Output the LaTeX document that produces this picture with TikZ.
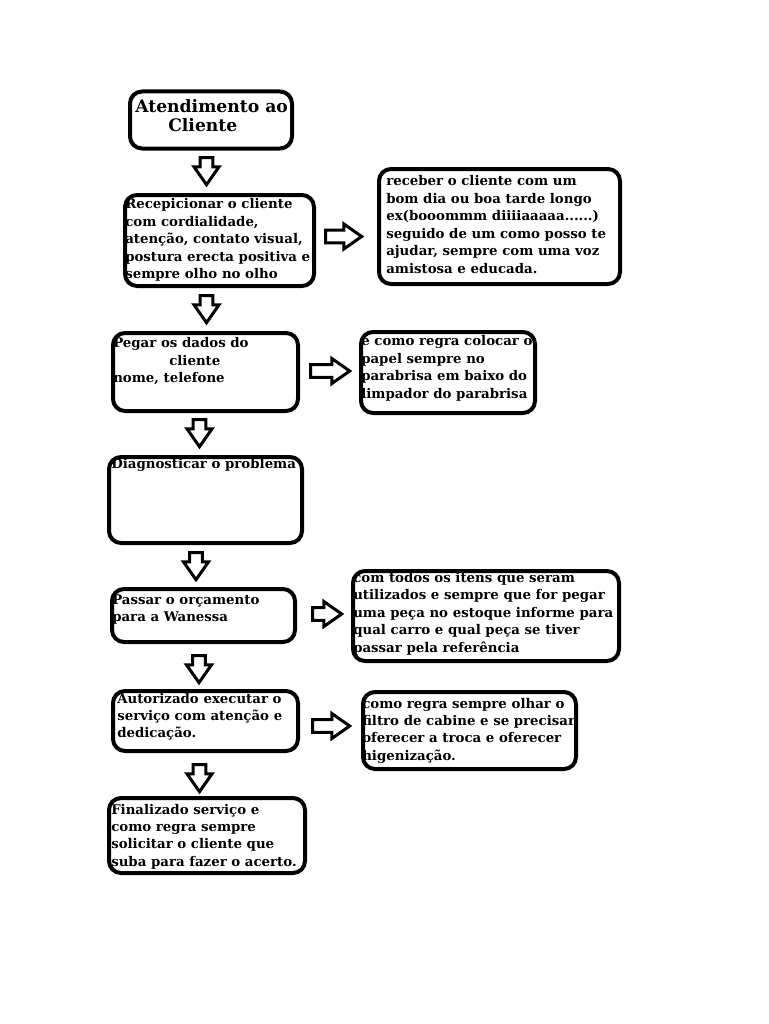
\documentclass[tikz,border=0pt]{standalone}
\usepackage{fontspec}
\setmainfont{DejaVu Serif}
\usetikzlibrary{shapes.arrows}
\tikzset{
  box/.style={draw, line width=3pt, rounded corners=9pt, inner sep=0pt},
  txt/.style={anchor=north west, inner sep=0pt, align=left,
    font=\fontsize{10pt}{13.1pt}\selectfont\bfseries},
  ttl/.style={anchor=north west, inner sep=0pt, align=left,
    font=\fontsize{12.9pt}{14.25pt}\selectfont\bfseries},
  blk/.style={single arrow, draw, line width=2.25pt, fill=white,
    inner xsep=0pt, inner ysep=3.6pt,
    single arrow head extend=4.6pt,
    single arrow tip angle=70, anchor=tail},
  darr/.style={blk, minimum height=27*0.75pt, rotate=-90},
  rarr/.style={blk, minimum height=#1*0.75pt},
}
\begin{document}
\begin{tikzpicture}[x=0.75pt, y=-0.75pt]
\useasboundingbox (0,0) rectangle (768,1024);
\fill[white] (0,0) rectangle (768,1024);

% boxes
\node[box, minimum width=162*0.75pt, minimum height=57*0.75pt] (bt) at (211,120) {};
\node[box, minimum width=189*0.75pt, minimum height=91*0.75pt] (b1) at (219.5,240.5) {};
\node[box, minimum width=241*0.75pt, minimum height=115*0.75pt] (r1) at (499.5,226.5) {};
\node[box, minimum width=185*0.75pt, minimum height=78*0.75pt] (b2) at (205.5,372) {};
\node[box, minimum width=174*0.75pt, minimum height=81*0.75pt] (r2) at (448,372.5) {};
\node[box, minimum width=193*0.75pt, minimum height=86*0.75pt] (b3) at (205.5,500) {};
\node[box, minimum width=183*0.75pt, minimum height=53*0.75pt] (b4) at (203.5,615.5) {};
\node[box, minimum width=266*0.75pt, minimum height=90*0.75pt] (r3) at (486,616) {};
\node[box, minimum width=185*0.75pt, minimum height=60*0.75pt] (b5) at (205.5,721) {};
\node[box, minimum width=213*0.75pt, minimum height=77*0.75pt] (r4) at (469.5,730.5) {};
\node[box, minimum width=196*0.75pt, minimum height=75*0.75pt] (b6) at (207,835.5) {};

% texts
\node[ttl] (tt) at (135,98.5) {\strut Atendimento ao\\\hspace*{24.75pt}Cliente};
\node[txt] (t1) at (125,196.5) {\strut Recepicionar o cliente\\com cordialidade,\\aten\c{c}\~ao, contato visual,\\postura erecta positiva e\\sempre olho no olho};
\node[txt] (tr1) at (386,173.5) {\strut receber o cliente com um\\bom dia ou boa tarde longo\\ex(booommm diiiiaaaaa......)\\seguido de um como posso te\\ajudar, sempre com uma voz\\amistosa e educada.};
\node[txt] (t2) at (113,335.5) {\strut Pegar os dados do\\\hspace*{42pt}cliente\\nome, telefone};
\node[txt] (tr2) at (361,333.5) {\strut e como regra colocar o\\papel sempre no\\parabrisa em baixo do\\limpador do parabrisa};
\node[txt] (t3) at (111,456) {\strut Diagnosticar o problema};
\node[txt] (t4) at (112,591.5) {\strut Passar o or\c{c}amento\\para a Wanessa};
\node[txt] (tr3) at (353,570) {\strut com todos os itens que seram\\utilizados e sempre que for pegar\\uma pe\c{c}a no estoque informe para\\qual carro e qual pe\c{c}a se tiver\\passar pela refer\^encia};
\node[txt] (t5) at (117,690.5) {\strut Autorizado executar o\\servi\c{c}o com aten\c{c}\~ao e\\dedica\c{c}\~ao.};
\node[txt] (tr4) at (362,695.5) {\strut como regra sempre olhar o\\filtro de cabine e se precisar\\oferecer a troca e oferecer\\higeniza\c{c}\~ao.};
\node[txt] (t6) at (111,801.5) {\strut Finalizado servi\c{c}o e\\como regra sempre\\solicitar o cliente que\\suba para fazer o acerto.};

% block arrows (down), placed by their tail
\node[darr] (a1) at (206.5,156.2) {};
\node[darr] (a2) at (206.5,294.2) {};
\node[darr] (a3) at (199.5,418.2) {};
\node[darr] (a4) at (196,551.2) {};
\node[darr] (a5) at (199,654.2) {};
\node[darr] (a6) at (199.5,763.2) {};
% block arrows (right)
\node[rarr=36] (h1) at (324.2,236.5) {};
\node[rarr=39] (h2) at (309.2,371) {};
\node[rarr=29] (h3) at (311.2,614) {};
\node[rarr=37] (h4) at (311.2,726) {};
\end{tikzpicture}
\end{document}
